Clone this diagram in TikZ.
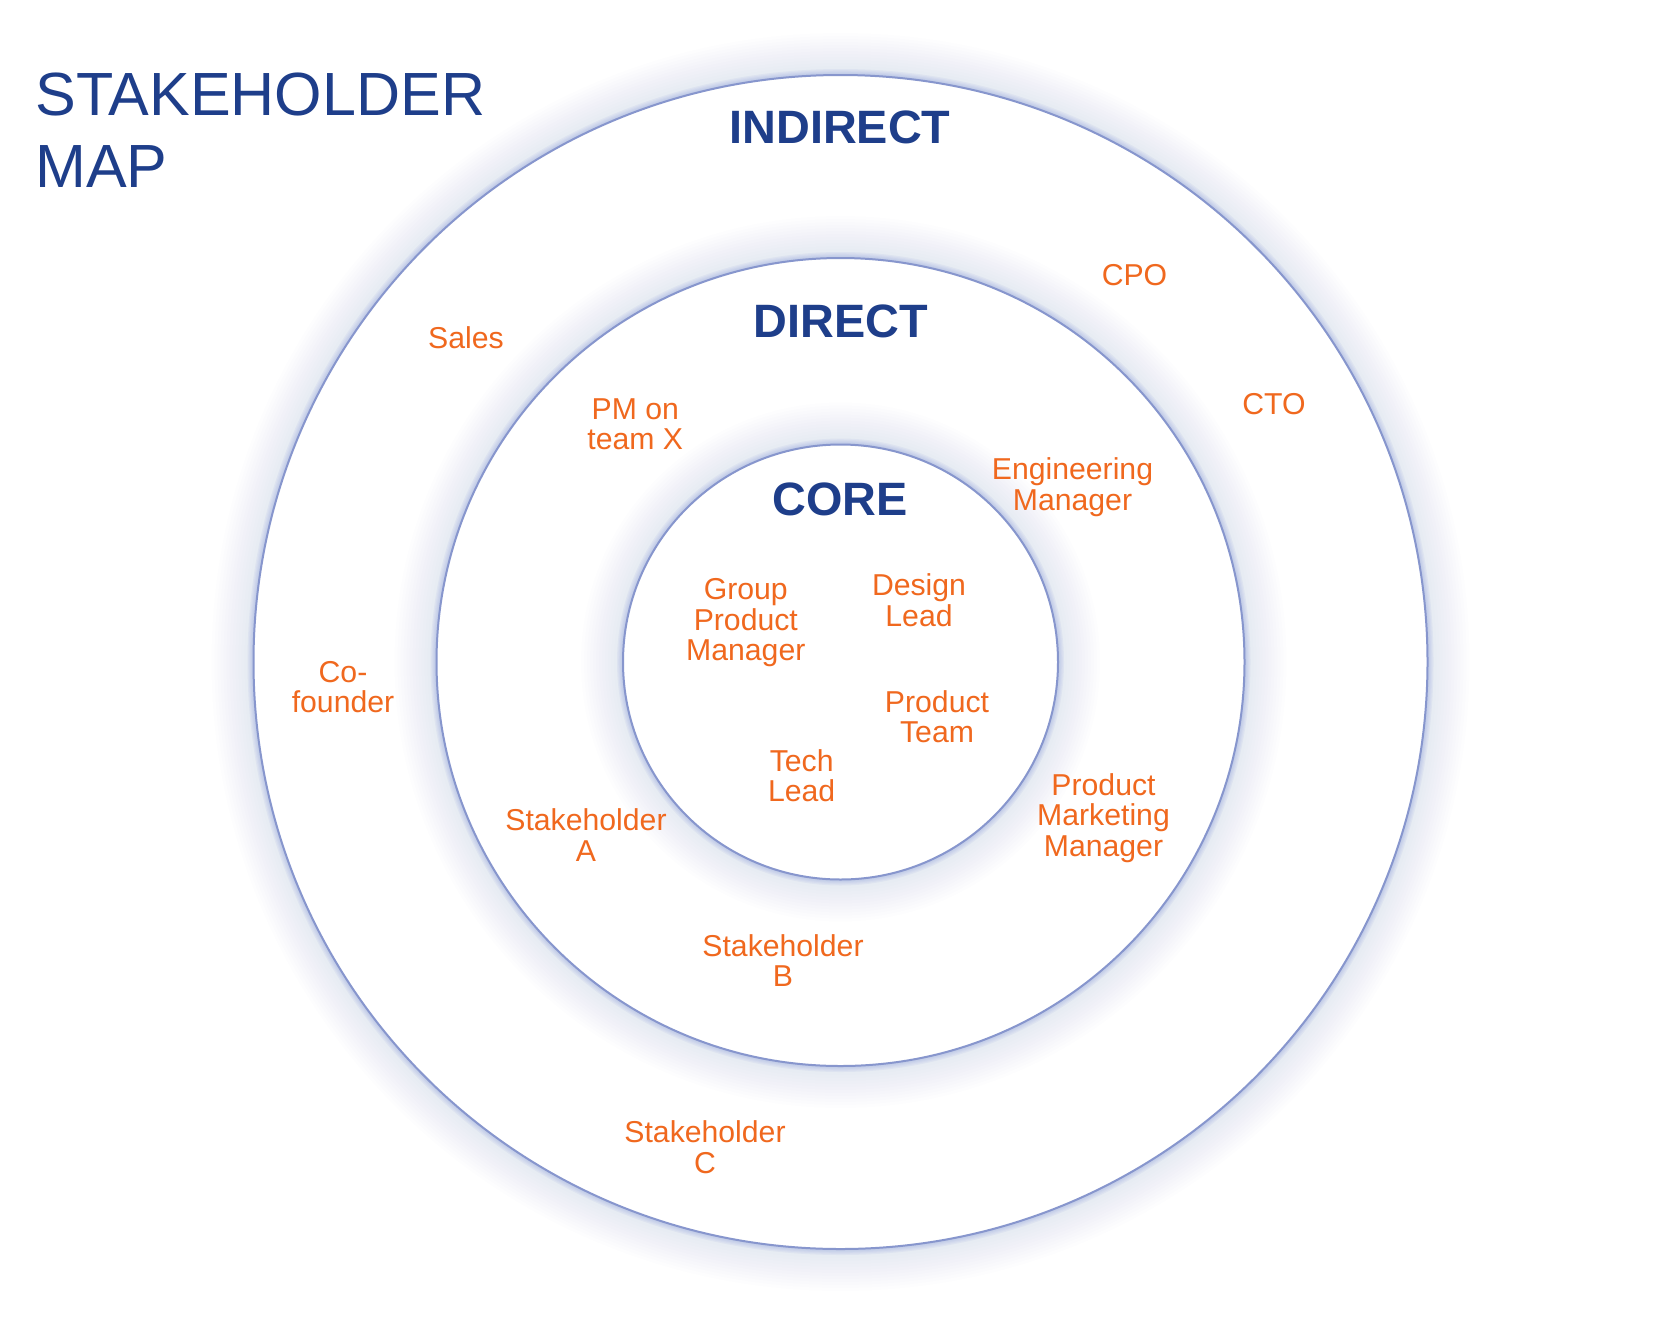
\documentclass[tikz,border=0pt]{standalone}
\usepackage{fontspec}
\setmainfont{Liberation Sans}
\definecolor{tblue}{RGB}{30,62,138}
\definecolor{lorange}{RGB}{240,104,30}
\definecolor{ringc}{RGB}{135,150,205}
\definecolor{glowc}{RGB}{95,115,210}
\begin{document}
\begin{tikzpicture}[x=0.5pt,y=-0.5pt,
  lbl/.style={text=lorange, font=\fontsize{15.1}{15.25}\selectfont, align=center, inner sep=0pt},
  big/.style={text=tblue, font=\fontsize{23.4}{26}\selectfont\bfseries, inner sep=0pt, anchor=base},
  ring/.style={draw=ringc, line width=1pt},
  haze/.style={fill=glowc, opacity=0.008},
  edge/.style={fill=glowc, opacity=0.06}
]
\useasboundingbox[fill=white] (0,0) rectangle (1680,1323);
\coordinate (C) at (840.5,662);
\foreach \r in {587,404,217.5}{
  \foreach \k in {14,...,1}{\fill[haze] (C) circle[radius=\r+3*\k];}
  \foreach \k in {5,...,1}{\fill[edge] (C) circle[radius=\r+1.2*\k];}
  \fill[white] (C) circle[radius=\r];
}
\foreach \r in {587,404,217.5}{\draw[ring] (C) circle[radius=\r];}

\node[anchor=north west, inner sep=0pt, align=left, text=tblue, font=\fontsize{30.5}{36}\selectfont] (title) at (35,73) {STAKEHOLDER\\MAP};

\node[big] (indirect) at (840,143) {INDIRECT};
\node[big] (direct) at (841,337.5) {DIRECT};
\node[big] (core) at (840,515) {CORE};

\node[lbl, anchor=base] (sales) at (466,348) {Sales};
\node[lbl, anchor=base] (cpo) at (1134.5,285) {CPO};
\node[lbl, anchor=base] (cto) at (1274,414) {CTO};
\node[lbl] (pm) at (635.3,424) {PM on\\team X};
\node[lbl] (em) at (1072.5,487) {Engineering\\Manager};
\node[lbl] (gpm) at (745.8,623) {Group\\Product\\Manager};
\node[lbl] (dl) at (919,600) {Design\\Lead};
\node[lbl] (pt) at (937,716.7) {Product\\Team};
\node[lbl] (tl) at (801.7,775.7) {Tech\\Lead};
\node[lbl] (cof) at (343,687) {Co-\\founder};
\node[lbl] (sa) at (586,835) {Stakeholder\\A};
\node[lbl] (pmm) at (1103.5,818) {Product\\Marketing\\Manager};
\node[lbl] (sb) at (783,960.5) {Stakeholder\\B};
\node[lbl] (sc) at (705,1147) {Stakeholder\\C};
\end{tikzpicture}
\end{document}
